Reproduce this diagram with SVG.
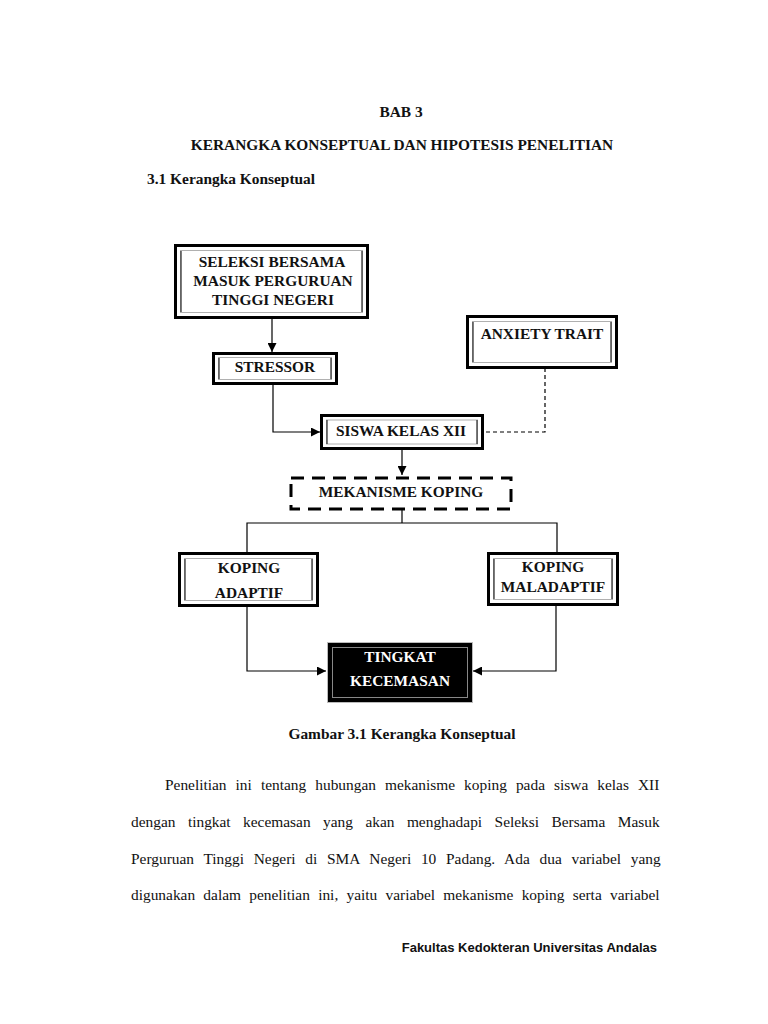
<svg xmlns="http://www.w3.org/2000/svg" width="768" height="1024" viewBox="0 0 768 1024">
<style>
text{font-family:"Liberation Serif","Times New Roman",serif;fill:#111}
.b{font-weight:bold;font-size:15.4px}
.bc{font-weight:bold;font-size:15.4px;text-anchor:middle}
.p{font-size:15.4px}
.outer{fill:#fff;stroke:#000;stroke-width:3}
.inner{fill:none;stroke:#b0b0b0;stroke-width:1}
.side{stroke:#444;stroke-width:1.4}
.con{fill:none;stroke:#000;stroke-width:1.2}
.dash{fill:none;stroke:#000;stroke-width:1.2;stroke-dasharray:4 3}
</style>
<defs>
<marker id="ah" markerUnits="userSpaceOnUse" markerWidth="9" markerHeight="9" refX="9" refY="4.5" orient="auto">
<path d="M0,0 L9,4.5 L0,9 z" fill="#000"/>
</marker>
</defs>
<rect width="768" height="1024" fill="#fff"/>

<g id="header">
<text class="bc" x="401" y="117">BAB 3</text>
<text class="bc" x="402" y="150">KERANGKA KONSEPTUAL DAN HIPOTESIS PENELITIAN</text>
<text class="b" x="147" y="184">3.1 Kerangka Konseptual</text>
</g>

<g id="connectors">
<line class="con" x1="272" y1="318" x2="272" y2="352" marker-end="url(#ah)"/>
<polyline class="con" points="273,384 273,432 320,432" marker-end="url(#ah)"/>
<polyline class="dash" points="545,368 545,432 483,432"/>
<line class="con" x1="402" y1="449" x2="402" y2="475" marker-end="url(#ah)"/>
<polyline class="con" points="402,509 402,523"/>
<polyline class="con" points="247,553 247,523 557,523 557,553"/>
<polyline class="con" points="247,605 247,671 326,671" marker-end="url(#ah)"/>
<polyline class="con" points="556,605 556,671 473,671" marker-end="url(#ah)"/>
</g>

<g id="seleksi">
<rect class="outer" x="175.5" y="245.5" width="192" height="72"/>
<rect class="inner" x="180.5" y="250.5" width="182" height="62"/>
<line class="side" x1="181" y1="251" x2="181" y2="312"/>
<line class="side" x1="362" y1="251" x2="362" y2="312"/>
<text class="bc" x="272" y="267">SELEKSI BERSAMA</text>
<text class="bc" x="273" y="286">MASUK PERGURUAN</text>
<text class="bc" x="273" y="305">TINGGI NEGERI</text>
</g>

<g id="stressor">
<rect class="outer" x="213.5" y="353.5" width="123" height="30"/>
<rect class="inner" x="218.5" y="357.5" width="113" height="22"/>
<line class="side" x1="219" y1="358" x2="219" y2="379"/>
<line class="side" x1="331" y1="358" x2="331" y2="379"/>
<text class="bc" x="275" y="372">STRESSOR</text>
</g>

<g id="anxiety">
<rect class="outer" x="467.5" y="316.5" width="149" height="51"/>
<rect class="inner" x="472.5" y="321.5" width="139" height="41"/>
<line class="side" x1="473" y1="322" x2="473" y2="362"/>
<line class="side" x1="611" y1="322" x2="611" y2="362"/>
<text class="bc" x="542" y="339">ANXIETY TRAIT</text>
</g>

<g id="siswa">
<rect class="outer" x="321.5" y="415.5" width="161" height="33"/>
<rect class="inner" x="326.5" y="420" width="151" height="24"/>
<line class="side" x1="327" y1="420" x2="327" y2="444"/>
<line class="side" x1="477" y1="420" x2="477" y2="444"/>
<text class="bc" x="401" y="436">SISWA KELAS XII</text>
</g>

<g id="mekanisme">
<rect x="291" y="478" width="220" height="31" fill="#fff" stroke="#000" stroke-width="3" stroke-dasharray="13 8"/>
<text class="bc" x="401" y="497">MEKANISME KOPING</text>
</g>

<g id="adaptif">
<rect class="outer" x="179.5" y="553.5" width="138" height="52"/>
<rect class="inner" x="184.5" y="558.5" width="128" height="42"/>
<line class="side" x1="185" y1="559" x2="185" y2="600"/>
<line class="side" x1="312" y1="559" x2="312" y2="600"/>
<text class="bc" x="249" y="573">KOPING</text>
<text class="bc" x="249" y="598">ADAPTIF</text>
</g>

<g id="maladaptif">
<rect class="outer" x="488.5" y="553.5" width="129" height="51"/>
<rect class="inner" x="493.5" y="558.5" width="119" height="41"/>
<line class="side" x1="494" y1="559" x2="494" y2="599"/>
<line class="side" x1="612" y1="559" x2="612" y2="599"/>
<text class="bc" x="553" y="572">KOPING</text>
<text class="bc" x="553" y="592">MALADAPTIF</text>
</g>

<g id="tingkat">
<rect x="327.5" y="642.5" width="145" height="60" fill="#000" stroke="#bbb" stroke-width="1"/>
<rect x="332.5" y="647.5" width="135" height="50" fill="none" stroke="#888" stroke-width="1"/>
<text class="bc" x="400" y="662" style="fill:#fff">TINGKAT</text>
<text class="bc" x="400" y="686" style="fill:#fff">KECEMASAN</text>
</g>

<g id="caption">
<text class="bc" x="402" y="739">Gambar 3.1 Kerangka Konseptual</text>
</g>

<g id="paragraph">
<text class="p" x="165" y="790" style="word-spacing:5.2px">Penelitian ini tentang hubungan mekanisme koping pada siswa kelas XII</text>
<text class="p" x="131" y="827" style="word-spacing:8.6px">dengan tingkat kecemasan yang akan menghadapi Seleksi Bersama Masuk</text>
<text class="p" x="131" y="864" style="word-spacing:5.9px">Perguruan Tinggi Negeri di SMA Negeri 10 Padang. Ada dua variabel yang</text>
<text class="p" x="131" y="900" style="word-spacing:4.4px">digunakan dalam penelitian ini, yaitu variabel mekanisme koping serta variabel</text>
</g>

<g id="footer">
<text x="657" y="952" style="font-family:'Liberation Sans',Arial,sans-serif;font-weight:bold;font-size:13px;text-anchor:end">Fakultas Kedokteran Universitas Andalas</text>
</g>
</svg>
